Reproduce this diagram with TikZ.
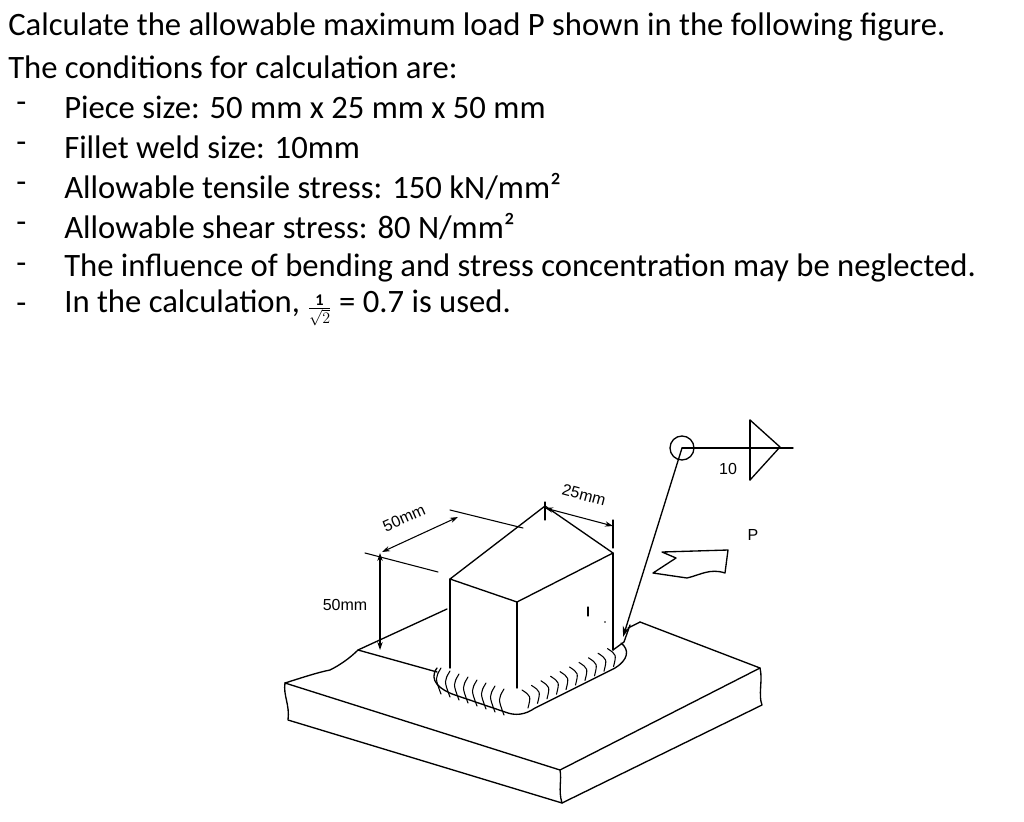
\documentclass[tikz,border=0pt]{standalone}
\usepackage{fontspec}
\setmainfont{Carlito}
\newfontfamily\lab{Liberation Sans}
\usetikzlibrary{arrows.meta}
\begin{document}
\begin{tikzpicture}[x=0.75pt,y=-0.75pt,
  txt/.style={anchor=west,inner sep=0pt,font=\fontsize{24.5}{28}\selectfont},
  lb/.style={inner sep=0pt,font=\lab\fontsize{12}{14}\selectfont},
  ln/.style={line width=1pt,line join=round,line cap=round},
  dim/.style={line width=0.8pt,-{Stealth[length=6pt,width=4pt]}}]
\useasboundingbox (0,0) rectangle (1024,821);
\node[txt] (t1) at (8,27) {Calculate the allowable maximum load P shown in the following figure.};
\node[txt] (t2) at (8,67) {The conditions for calculation are:};
\foreach \y/\t [count=\i] in {107/{Piece size: 50 mm x 25 mm x 50 mm},147/{Fillet weld size: 10mm},187/{Allowable tensile stress: 150 kN/mm²},227/{Allowable shear stress: 80 N/mm²},268/{The influence of bending and stress concentration may be neglected.}}{
  \node[txt] (d\i) at (16,\y) {-};
  \node[txt] (l\i) at (64,\y) {\t};}
\node[txt] (d6) at (16,308) {-};
\node[txt] (l6) at (64,308) {In the calculation, \raisebox{-1pt}{$\scriptstyle\frac{\mathbf 1}{\sqrt{2}}$} = 0.7 is used.};
% plate
\draw[ln] (358,650) -- (437,672);
\draw[ln] (358,650) -- (447,609);
\draw[ln] (285,683) .. controls (310,675) and (320,672) .. (330,670) .. controls (340,665) and (350,658) .. (358,650);
\draw[ln] (285,683) -- (560,770) -- (760,668) -- (640,622);
\draw[ln] (640,622) -- (628,628);
\draw[ln] (285,683) .. controls (283,695) and (290,705) .. (288,720) -- (562,803) .. controls (558,790) and (562,780) .. (560,770);
\draw[ln] (562,803) -- (762,705) .. controls (758,695) and (763,680) .. (760,668);
% block
\draw[ln] (450,579) -- (517,602) -- (613,553) -- (545,506) -- cycle;
\draw[ln] (450,579) -- (450,668);
\draw[ln] (517,602) -- (517,688);
\draw[ln] (613,553) -- (613,650);
% weld
\draw[ln] (437,668) .. controls (428,680) and (440,690) .. (455,695) -- (505,712) .. controls (515,716) and (525,715) .. (535,708) -- (615,668) .. controls (628,660) and (630,650) .. (621,643);
\foreach \k in {0,...,7}{\draw[ln,line width=0.8pt] ({441+\k*9},{668+\k*3}) .. controls ({435+\k*9},{678+\k*3}) .. ({441+\k*9},{694+\k*3});}
\foreach \k in {0,...,9}{\draw[ln,line width=0.8pt] ({522+\k*9.5},{690-\k*4.6}) .. controls ({531+\k*9.5},{696-\k*4.6}) .. ({528+\k*9.5},{708-\k*4.6});}
\draw[ln] (613,650) -- (624,642) -- (630,625);
% dimensions
\draw[ln,line width=0.8pt] (365,553) -- (438,572);
\draw[dim,{Stealth[length=6pt,width=4pt]}-{Stealth[length=6pt,width=4pt]}] (380,553) -- (380,650);
\node[lb] (h50) at (345,605) {50mm};
\draw[ln,line width=0.8pt] (450,510) -- (523,528);
\draw[dim,{Stealth[length=6pt,width=4pt]}-{Stealth[length=6pt,width=4pt]}] (382,552) -- (458,517);
\node[lb,rotate=24] (w50) at (404,518) {50mm};
\draw[ln,line width=0.8pt] (545,502) -- (545,520);
\draw[ln,line width=0.8pt] (613,520) -- (613,548);
\draw[dim,{Stealth[length=6pt,width=4pt]}-{Stealth[length=6pt,width=4pt]}] (545,508) -- (613,526);
\node[lb,rotate=-15] (d25) at (584,495) {25mm};
\draw[ln,line width=0.8pt] (588,607) -- (588,616);
\fill (605,622) circle (0.8);
% weld symbol
\coordinate (tip) at (623,637);
\node[draw,circle,minimum size=18pt,inner sep=0pt,line width=1pt] (circ) at (682,448) {};
\draw[ln,-{Stealth[length=8pt,width=5pt]}] (682,448) -- (tip);
\draw[ln] (682,448) -- (793,448);
\draw[ln] (750,420) -- (750,480);
\draw[ln] (750,420) -- (780,447) -- (750,480);
\node[lb] (ten) at (728,469) {10};
\node[lb] (P) at (753,535) {P};
\draw[ln] (653,573) -- (676,558) -- (662,552) -- (728,550) -- (725,573) .. controls (710,568) and (700,575) .. (687,578) -- cycle;
\end{tikzpicture}
\end{document}
